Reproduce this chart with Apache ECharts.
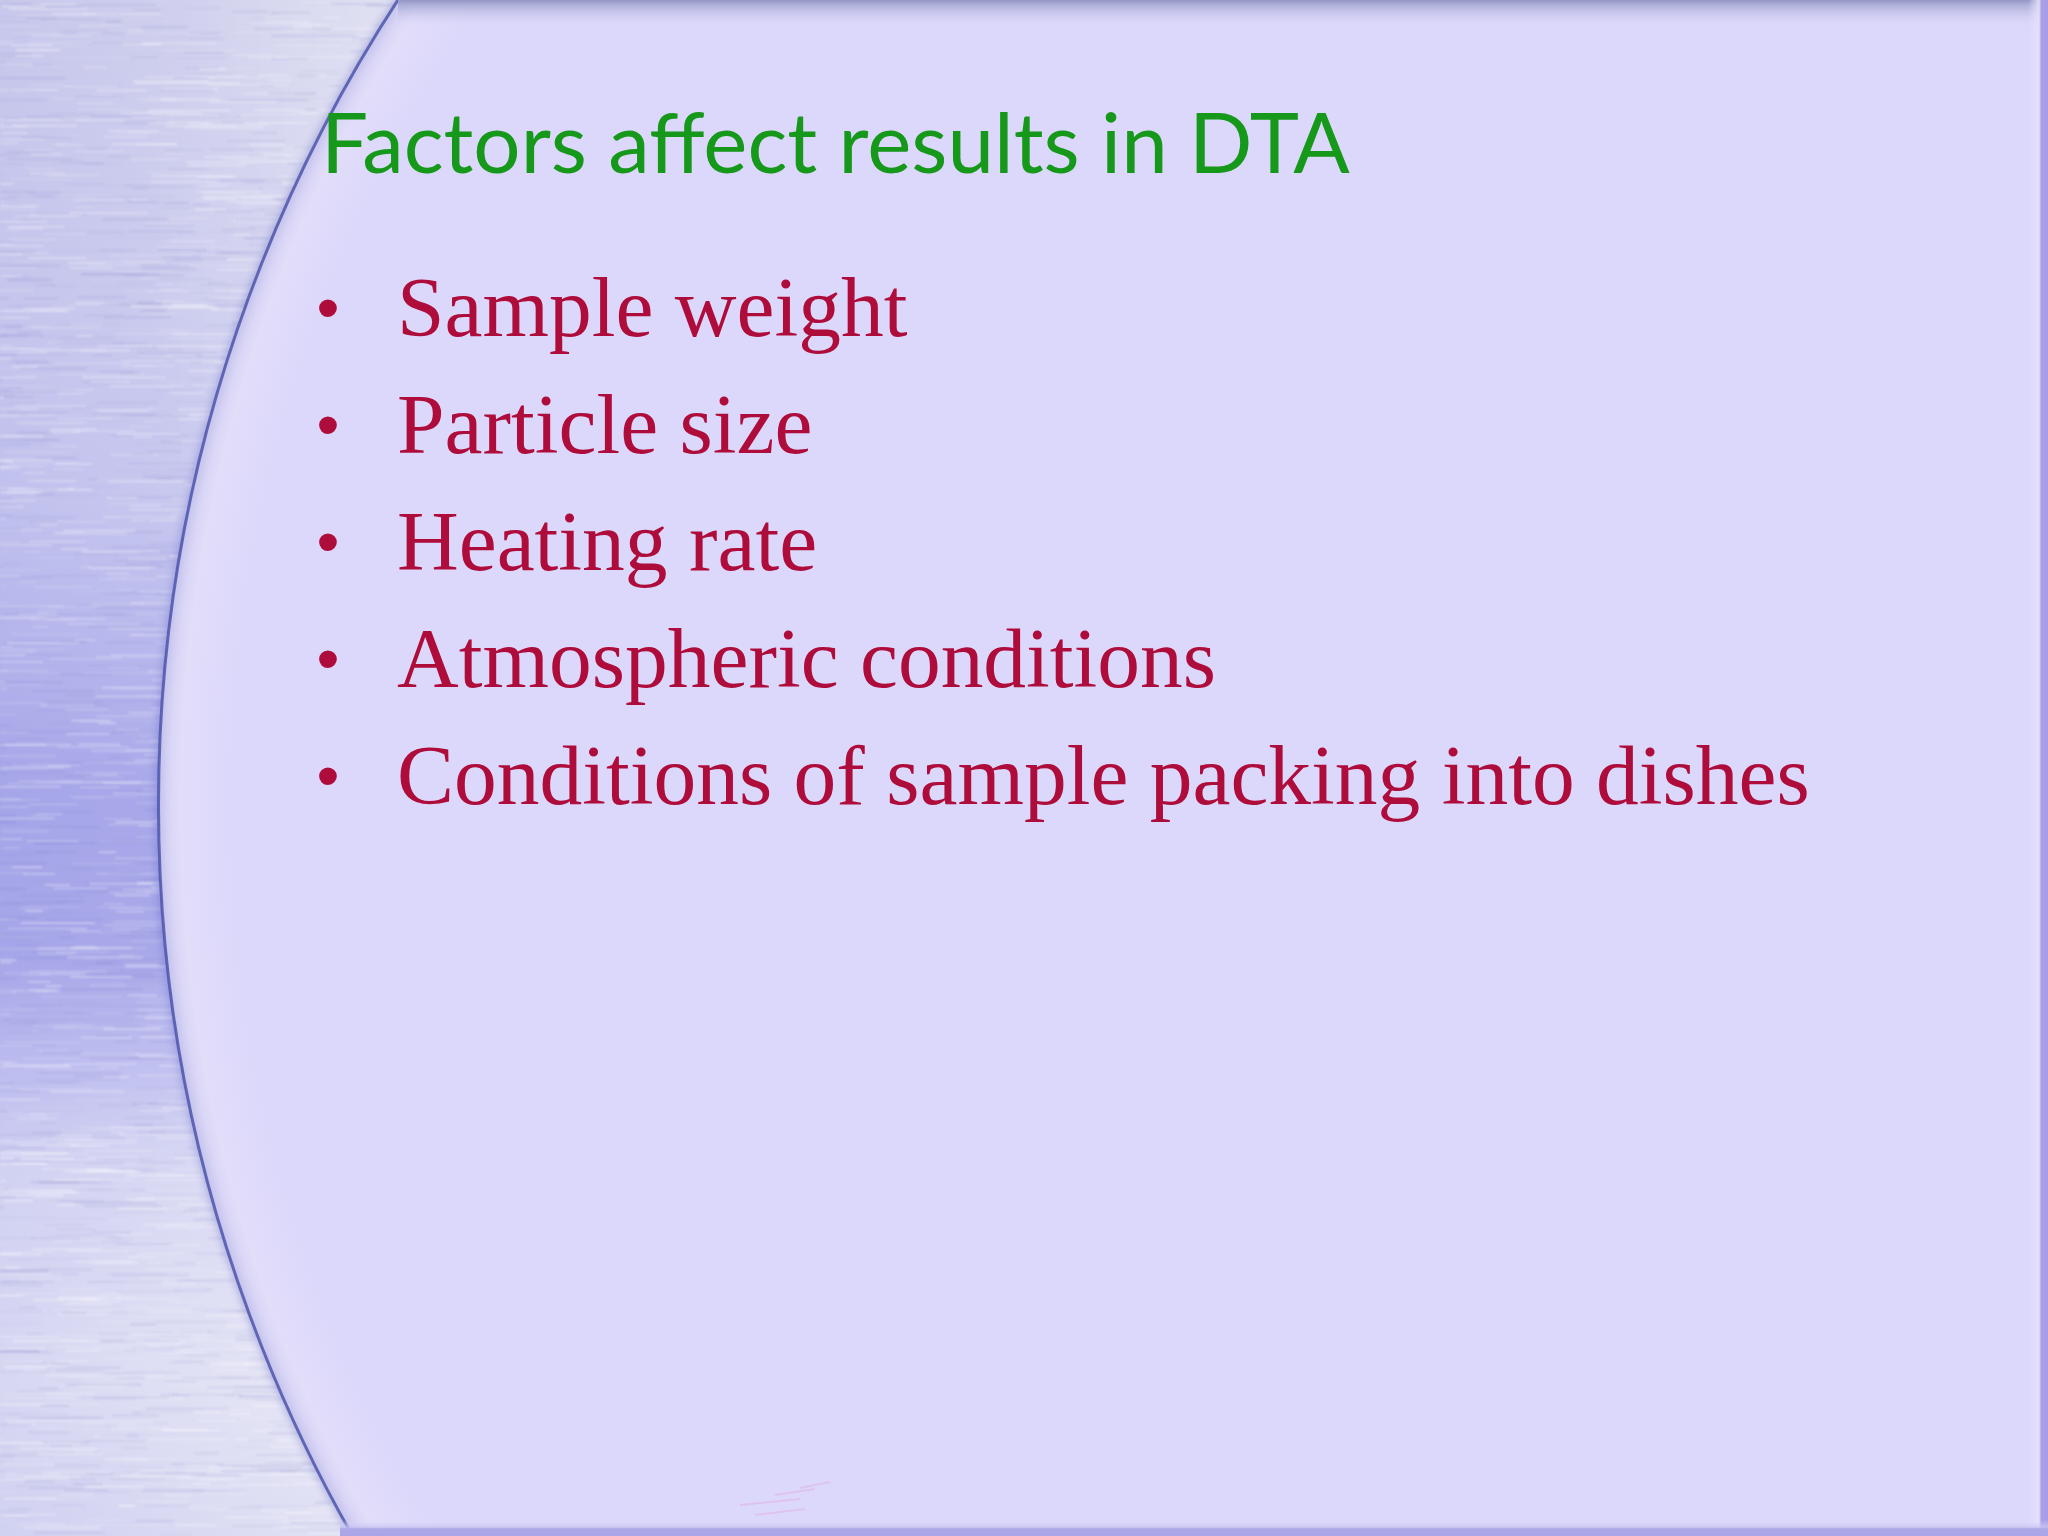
<!DOCTYPE html>
<html><head><meta charset="utf-8">
<script src="https://cdn.jsdelivr.net/npm/echarts@6/dist/echarts.min.js"></script>
<style>html,body{margin:0;padding:0;width:2048px;height:1536px;overflow:hidden;background:#dcd8fa}#c{width:2048px;height:1536px}</style>
</head><body><div id="c"></div>
<script>
// ---- slide content ----
const titleText = 'Factors affect results in DTA';
const bulletItems = [
  'Sample weight',
  'Particle size',
  'Heating rate',
  'Atmospheric conditions',
  'Conditions of sample packing into dishes'
];
const bulletChar = '\u2022';

// ---- layout ----
const W = 2048, H = 1536;
const ARC = {cx: 1631.5, cy: 805, r: 1473};
const TITLE_FONT = 'Lato, "Open Sans", sans-serif';
const BODY_FONT = '"Liberation Serif", "DejaVu Serif", serif';
const BULLET_FONT = '"Liberation Sans", Arial, sans-serif';

const mctx = document.createElement('canvas').getContext('2d');
function fitSize(text, family, weight, targetW) {
  mctx.font = weight + ' 100px ' + family;
  return 100 * targetW / mctx.measureText(text).width;
}
function baseOffset(size, family, weight) {
  mctx.font = weight + ' ' + size + 'px ' + family;
  mctx.textBaseline = 'alphabetic';
  const a = mctx.measureText('H').actualBoundingBoxAscent;
  mctx.textBaseline = 'middle';
  const b = mctx.measureText('H').actualBoundingBoxAscent;
  mctx.textBaseline = 'alphabetic';
  return a - b;
}
function bulletMetrics(family, diameter) {
  mctx.textBaseline = 'middle';
  mctx.font = '100px ' + family;
  const m = mctx.measureText(bulletChar);
  const w = m.actualBoundingBoxRight + m.actualBoundingBoxLeft;
  const size = 100 * diameter / w;
  mctx.font = size + 'px ' + family;
  const m2 = mctx.measureText(bulletChar);
  const centerOff = (m2.actualBoundingBoxDescent - m2.actualBoundingBoxAscent) / 2;
  mctx.textBaseline = 'alphabetic';
  return {size, centerOff};
}

// ---- left textured panel (decorative background) ----
function hash(n) { const s = Math.sin(n * 12.9898 + 78.233) * 43758.5453; return s - Math.floor(s); }
function makeLeftPanel() {
  const cv = document.createElement('canvas');
  cv.width = 480; cv.height = H;
  const c = cv.getContext('2d');
  let g = c.createLinearGradient(0, 0, 0, H);
  g.addColorStop(0.00, '#d9d9ef');
  g.addColorStop(0.18, '#d6d6f0');
  g.addColorStop(0.33, '#d0d0f1');
  g.addColorStop(0.42, '#c0c0ef');
  g.addColorStop(0.52, '#adadeb');
  g.addColorStop(0.62, '#aeaeeb');
  g.addColorStop(0.69, '#c8c8f2');
  g.addColorStop(0.76, '#e4e4f6');
  g.addColorStop(0.90, '#ececf7');
  g.addColorStop(1.00, '#e4e4f5');
  c.fillStyle = g; c.fillRect(0, 0, cv.width, H);
  g = c.createLinearGradient(0, 0, 420, 0);
  g.addColorStop(0, 'rgba(130,130,225,0.2)');
  g.addColorStop(1, 'rgba(130,130,225,0)');
  c.fillStyle = g; c.fillRect(0, 0, 480, H);
  g = c.createLinearGradient(150, 0, 420, 0);
  g.addColorStop(0, 'rgba(255,255,255,0)');
  g.addColorStop(1, 'rgba(255,255,255,0.25)');
  c.fillStyle = g; c.fillRect(0, 0, 480, 500);
  const sv = document.createElement('canvas');
  sv.width = 480; sv.height = H;
  const s = sv.getContext('2d');
  for (let i = 0; i < 3000; i++) {
    const x = hash(i) * 500 - 60;
    const y = hash(i + 5000) * H;
    const len = 15 + hash(i + 9000) * 70;
    const a = 0.08 + hash(i + 13000) * 0.25;
    const white = hash(i + 17000) > 0.4;
    s.fillStyle = white ? 'rgba(255,255,255,' + a + ')' : 'rgba(110,110,190,' + (a * 0.45) + ')';
    s.fillRect(x, y, len, 2);
  }
  try { c.filter = 'blur(1px)'; } catch (e) {}
  c.drawImage(sv, 0, 0);
  try { c.filter = 'none'; } catch (e) {}
  return cv;
}

// ---- compute text metrics ----
const titleWeight = 'normal';
const titleSize = fitSize(titleText, TITLE_FONT, titleWeight, 1029);
const titleBase = 173;
const titleOff = baseOffset(titleSize, TITLE_FONT, titleWeight);

const longest = bulletItems.reduce((a, b) => b.length > a.length ? b : a, '');
const bodySize = fitSize(longest, BODY_FONT, 'normal', 1413);
const bodyOff = baseOffset(bodySize, BODY_FONT, 'normal');
const bodyX = 397, firstBase = 336, lineStep = 117;
const bm = bulletMetrics(BULLET_FONT, 19);

const elements = [];
elements.push({type: 'rect', z: 0, shape: {x: 0, y: 0, width: W, height: H}, style: {fill: '#dcd8fa'}});
elements.push({type: 'image', z: 1, style: {image: makeLeftPanel(), x: 0, y: 0, width: 480, height: H}});
elements.push({type: 'circle', z: 2, shape: {cx: ARC.cx, cy: ARC.cy, r: ARC.r},
  style: {
    fill: {type: 'radial', x: ARC.cx, y: ARC.cy, r: ARC.r, global: true, colorStops: [
      {offset: 0, color: '#dcd8fb'},
      {offset: 0.95, color: '#dcd8fb'},
      {offset: 0.985, color: '#e2ddf9'},
      {offset: 1, color: '#d2cff3'}
    ]},
    stroke: 'rgba(78,86,172,0.85)', lineWidth: 3,
    shadowBlur: 10, shadowColor: 'rgba(90,96,190,0.45)'
  }});
elements.push({type: 'rect', z: 3, shape: {x: 398, y: 0, width: W - 398, height: 28},
  style: {fill: {type: 'linear', x: 0, y: 0, x2: 0, y2: 1, colorStops: [
    {offset: 0, color: 'rgba(148,150,196,1)'},
    {offset: 0.2, color: 'rgba(172,174,215,0.9)'},
    {offset: 1, color: 'rgba(220,216,251,0)'}]}}});
elements.push({type: 'rect', z: 3, shape: {x: 2028, y: 0, width: 20, height: H},
  style: {fill: {type: 'linear', x: 0, y: 0, x2: 1, y2: 0, colorStops: [
    {offset: 0, color: 'rgba(228,224,250,0)'},
    {offset: 0.55, color: 'rgba(230,226,250,0.9)'},
    {offset: 0.66, color: '#aaa0e6'},
    {offset: 1, color: '#a79ce4'}]}}});
elements.push({type: 'rect', z: 3, shape: {x: 340, y: 1520, width: W - 340, height: 16},
  style: {fill: {type: 'linear', x: 0, y: 0, x2: 0, y2: 1, colorStops: [
    {offset: 0, color: 'rgba(220,216,251,0)'},
    {offset: 0.45, color: 'rgba(200,196,240,0.8)'},
    {offset: 0.55, color: '#aca8e8'},
    {offset: 1, color: '#a9a5e6'}]}}});
[[740,1505,60],[755,1515,50],[775,1495,40],[800,1488,30]].forEach(p => {
  elements.push({type: 'line', z: 3, shape: {x1: p[0], y1: p[1], x2: p[0] + p[2], y2: p[1] - 6},
    style: {stroke: 'rgba(225,170,225,0.45)', lineWidth: 2}});
});

elements.push({type: 'text', z: 10, style: {
  text: titleText, x: 321, y: titleBase - titleOff,
  font: titleWeight + ' ' + titleSize + 'px ' + TITLE_FONT,
  fill: '#16981a', textAlign: 'left', verticalAlign: 'middle', lineHeight: titleSize
}});
bulletItems.forEach((t, i) => {
  const base = firstBase + i * lineStep;
  elements.push({type: 'text', z: 10, style: {
    text: bulletChar, x: 328, y: base - 28 - bm.centerOff,
    font: bm.size + 'px ' + BULLET_FONT, fill: '#ae0c3b',
    textAlign: 'center', verticalAlign: 'middle', lineHeight: bm.size
  }});
  elements.push({type: 'text', z: 10, style: {
    text: t, x: bodyX, y: base - bodyOff,
    font: 'normal ' + bodySize + 'px ' + BODY_FONT, fill: '#ae0c3b',
    textAlign: 'left', verticalAlign: 'middle', lineHeight: bodySize
  }});
});

const chart = echarts.init(document.getElementById('c'), null, {renderer: 'canvas', width: W, height: H});
chart.setOption({animation: false, graphic: {elements: elements}});
</script>
</body></html>
